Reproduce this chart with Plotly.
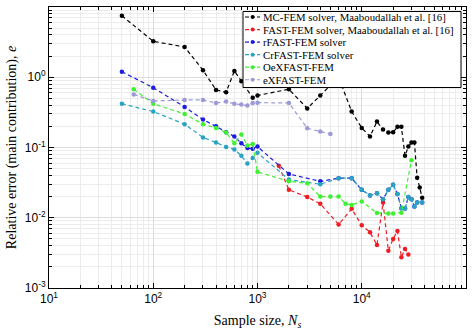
import numpy as np
import plotly.graph_objects as go

# ---- data ----
mc_x = [50, 100, 200, 300, 400, 500, 600, 700, 900, 1000, 2000, 3000, 4000, 6000, 8000,
        10000, 12000, 14000, 16000, 18000, 20000, 22000, 24000, 26000, 28000, 30000, 32000,
        34000, 36000, 38000]
mc_y = [7.5, 3.25, 2.7, 1.26, 0.66, 0.61, 1.23, 0.88, 0.51, 0.55, 0.675, 0.36, 0.55, 1.0, 0.325,
        0.19, 0.143, 0.234, 0.18, 0.163, 0.165, 0.197, 0.197, 0.076, 0.103, 0.118, 0.118,
        0.037, 0.027, 0.0192]

fast_x = [1600, 2000, 3000, 4000, 6000, 8000, 10000, 12000, 14000, 16000, 18000, 20000,
          22000, 24000, 26000, 28000]
fast_y = [0.055, 0.025, 0.0197, 0.0158, 0.008, 0.0134, 0.0078, 0.0062, 0.0041, 0.0165,
          0.0034, 0.005, 0.0065, 0.00275, 0.0036, 0.003]

shared_x = [6000, 8000, 10000, 12000, 14000, 16000, 18000, 20000, 22000, 24000, 26000,
            28000, 30000, 32000, 34000, 38000]
shared_y = [0.0366, 0.0366, 0.025, 0.0208, 0.0224, 0.0184, 0.025, 0.0294, 0.0217, 0.0137,
            0.0135, 0.0197, 0.0184, 0.0145, 0.0165, 0.0165]

rfast_x = [50, 100, 200, 300, 400, 500, 600, 700, 800, 900, 1000, 2000, 4000] + shared_x
rfast_y = [1.2, 0.71, 0.378, 0.25, 0.2, 0.165, 0.143, 0.115, 0.098, 0.096, 0.103, 0.042,
           0.033] + shared_y

crfast_x = [50, 100, 200, 300, 400, 500, 600, 700, 800, 900, 1000, 2000, 4000] + shared_x
crfast_y = [0.42, 0.325, 0.215, 0.139, 0.118, 0.102, 0.094, 0.076, 0.059, 0.0706, 0.084,
            0.035, 0.030] + shared_y

oex_x = [65, 100, 200, 300, 400, 500, 600, 700, 800, 900, 1000, 2000, 3000, 4000, 5000,
         6000, 7000, 8000, 10000, 14000, 18000, 20000, 24000, 30000]
oex_y = [0.675, 0.42, 0.30, 0.215, 0.19, 0.163, 0.115, 0.153, 0.107, 0.112, 0.045, 0.033,
         0.031, 0.020, 0.020, 0.020, 0.0158, 0.0152, 0.0170, 0.0117, 0.0115, 0.0115, 0.0118,
         0.066]

ex_x = [65, 100, 200, 300, 400, 500, 600, 700, 800, 900, 1000, 2000, 3000, 4000, 5000]
ex_y = [0.57, 0.46, 0.475, 0.475, 0.43, 0.45, 0.42, 0.41, 0.395, 0.43, 0.435, 0.43, 0.188,
        0.169, 0.156]

names = ["MC-FEM solver, Maaboudallah et al. [16]",
         "FAST-FEM solver, Maaboudallah et al. [16]",
         "rFAST-FEM solver",
         "CrFAST-FEM solver",
         "OeXFAST-FEM",
         "eXFAST-FEM"]
colors = ["#000000", "#f01c24", "#1c1ce0", "#2aa3c2", "#3ef030", "#9a9ad6"]
series = [(mc_x, mc_y), (fast_x, fast_y), (rfast_x, rfast_y), (crfast_x, crfast_y),
          (oex_x, oex_y), (ex_x, ex_y)]

x_ticks = [10, 100, 1000, 10000, 100000]
x_ticktext = ["10<sup>1</sup>", "10<sup>2</sup>", "10<sup>3</sup>", "10<sup>4</sup>", "10<sup>5</sup>"]
y_ticks = [0.001, 0.01, 0.1, 1, 10]
y_ticktext = ["10<sup>-3</sup>", "10<sup>-2</sup>", "10<sup>-1</sup>", "10<sup>0</sup>", "10<sup>1</sup>"]

W, H = 474, 332
ML, MR, MT, MB = 49, 8, 7, 44
PW, PH = W - ML - MR, H - MT - MB

fig = go.Figure()
for (xs, ys), nm, c in zip(series, names, colors):
    fig.add_trace(go.Scatter(x=xs, y=ys, name=nm, mode="lines+markers", showlegend=False,
                             line=dict(color=c, width=1.2, dash="4px,3px"),
                             marker=dict(color=c, size=4.5)))

# ---- compact legend (box, sample symbols, labels) in paper coordinates ----
def px_x(p):
    return (p - ML) / PW

def px_y(p):
    return 1 - (p - MT) / PH

shapes = [dict(type="rect", xref="paper", yref="paper", layer="above",
               x0=px_x(243), x1=px_x(461), y0=px_y(87.5), y1=px_y(11.5),
               fillcolor="white", line=dict(color="black", width=1))]
annotations = []
row_h = 12.55
for i, (nm, c) in enumerate(zip(names, colors)):
    yc = 17.0 + i * row_h
    shapes.append(dict(type="line", xref="paper", yref="paper", layer="above",
                       x0=px_x(245), x1=px_x(260), y0=px_y(yc), y1=px_y(yc),
                       line=dict(color=c, width=1.2, dash="4px,2px")))
    shapes.append(dict(type="circle", xref="paper", yref="paper", layer="above",
                       x0=px_x(250.6), x1=px_x(254.6), y0=px_y(yc + 2), y1=px_y(yc - 2),
                       fillcolor=c, line=dict(color=c, width=0)))
    annotations.append(dict(xref="paper", yref="paper", x=px_x(261), y=px_y(yc),
                            xanchor="left", yanchor="middle", showarrow=False, text=nm,
                            font=dict(family="Liberation Serif, serif", size=10.8, color="black")))

def minor_vals(lo, hi):
    return [m * 10.0 ** e for e in range(lo, hi) for m in range(2, 10)]

axis_common = dict(type="log", showline=True, linecolor="black", linewidth=1, mirror="allticks",
                   ticks="inside", ticklen=5, tickcolor="black",
                   showgrid=True, gridcolor="#dcdcdc", gridwidth=1, zeroline=False,
                   tickfont=dict(family="Liberation Sans, Arial", size=12, color="black"))

fig.update_layout(
    width=W, height=H,
    margin=dict(l=ML, r=MR, t=MT, b=MB),
    paper_bgcolor="white", plot_bgcolor="white",
    font=dict(family="Liberation Serif, Times New Roman, serif", color="black"),
    xaxis=dict(**axis_common, range=[1, 5], tickmode="array", tickvals=x_ticks, ticktext=x_ticktext,
               minor=dict(tickmode="array", tickvals=minor_vals(1, 5), ticks="inside", ticklen=3,
                          tickcolor="black", showgrid=True, gridcolor="#ececec"),
               title=dict(text="Sample size, <i>N<sub>s</sub></i>", standoff=9,
                          font=dict(family="Liberation Serif, serif", size=14))),
    yaxis=dict(**axis_common, range=[-3, 1], tickmode="array", tickvals=y_ticks, ticktext=y_ticktext,
               minor=dict(tickmode="array", tickvals=minor_vals(-3, 1), ticks="inside", ticklen=3,
                          tickcolor="black", showgrid=True, gridcolor="#ececec"),
               title=dict(text="Relative error (main contribution), <i>e</i>", standoff=4,
                          font=dict(family="Liberation Serif, serif", size=14))),
    shapes=shapes,
    annotations=annotations,
    showlegend=False,
)

fig.write_html("out.html")
